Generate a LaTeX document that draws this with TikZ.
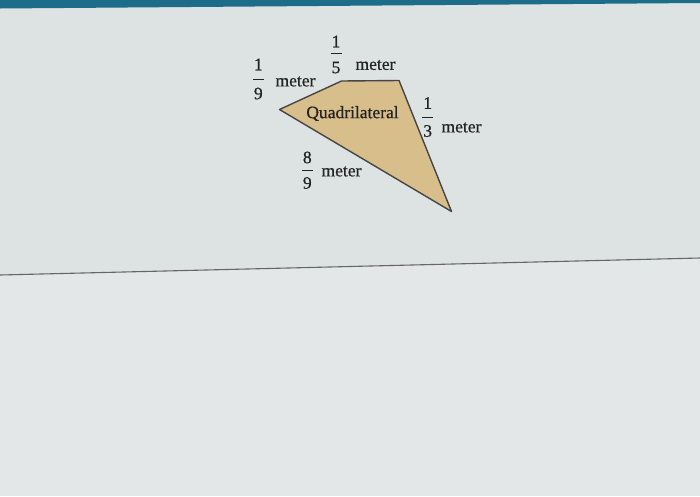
\documentclass[tikz,border=0pt]{standalone}
\usepackage{fontspec}
\setmainfont{Liberation Serif}
\newfontfamily\lblfont[FakeBold=0.6]{Liberation Serif}
\definecolor{bgup}{RGB}{221,226,226}
\definecolor{bglow}{RGB}{228,231,231}
\definecolor{topbar}{RGB}{28,108,138}
\definecolor{quadfill}{RGB}{216,190,138}
\definecolor{edge}{RGB}{70,70,70}
\definecolor{txt}{RGB}{35,35,35}
\tikzset{
  lbl/.style={text=txt, inner sep=0pt, font=\lblfont\fontsize{17.5}{20}\selectfont},
  fracbar/.style={draw=txt, line width=1pt},
}
% \fracnode{name}{x}{numy}{bary}{deny}{num}{den}
\newcommand{\fracnode}[7]{%
  \node[lbl] (#1n) at (#2,#3) {#6};
  \node[lbl] (#1d) at (#2,#5) {#7};
  \coordinate (#1a) at (#2-5.5,#4);
  \coordinate (#1b) at (#2+5.5,#4);
  \draw[fracbar] (#1a) -- (#1b);
}
\begin{document}
\begin{tikzpicture}[x=1pt,y=-1pt]
\useasboundingbox (0,0) rectangle (700,496);
\fill[bglow] (0,0) rectangle (700,496);
\fill[bgup] (0,0) -- (700,0) -- (700,258) -- (0,275) -- cycle;
\fill[topbar] (0,0) -- (700,0) -- (700,3) -- (0,8.5) -- cycle;
\coordinate (hl) at (0,275);
\coordinate (hr) at (700,258);
\draw[color=gray!80!black, line width=1.1pt] (hl) -- (hr);
% quadrilateral
\coordinate (A) at (279.5,109.5);
\coordinate (B) at (341.5,81);
\coordinate (C) at (399,80.5);
\coordinate (D) at (451.5,211.5);
\filldraw[fill=quadfill, draw=edge, line width=1.4pt, line join=round] (A) -- (B) -- (C) -- (D) -- cycle;
\node[lbl] (q) at (352.5,113.5) {Quadrilateral};
% labels
\fracnode{f1}{258.3}{64.5}{79.3}{93.5}{1}{9}
\node[lbl] (m1) at (295.5,81.5) {meter};
\fracnode{f2}{336}{41.5}{53.3}{67.5}{1}{5}
\node[lbl] (m2) at (375.5,65) {meter};
\fracnode{f3}{427.7}{103}{117.3}{131}{1}{3}
\node[lbl] (m3) at (461.5,127.5) {meter};
\fracnode{f4}{307.3}{157.5}{170}{183}{8}{9}
\node[lbl] (m4) at (341.5,171.5) {meter};
\end{tikzpicture}
\end{document}
